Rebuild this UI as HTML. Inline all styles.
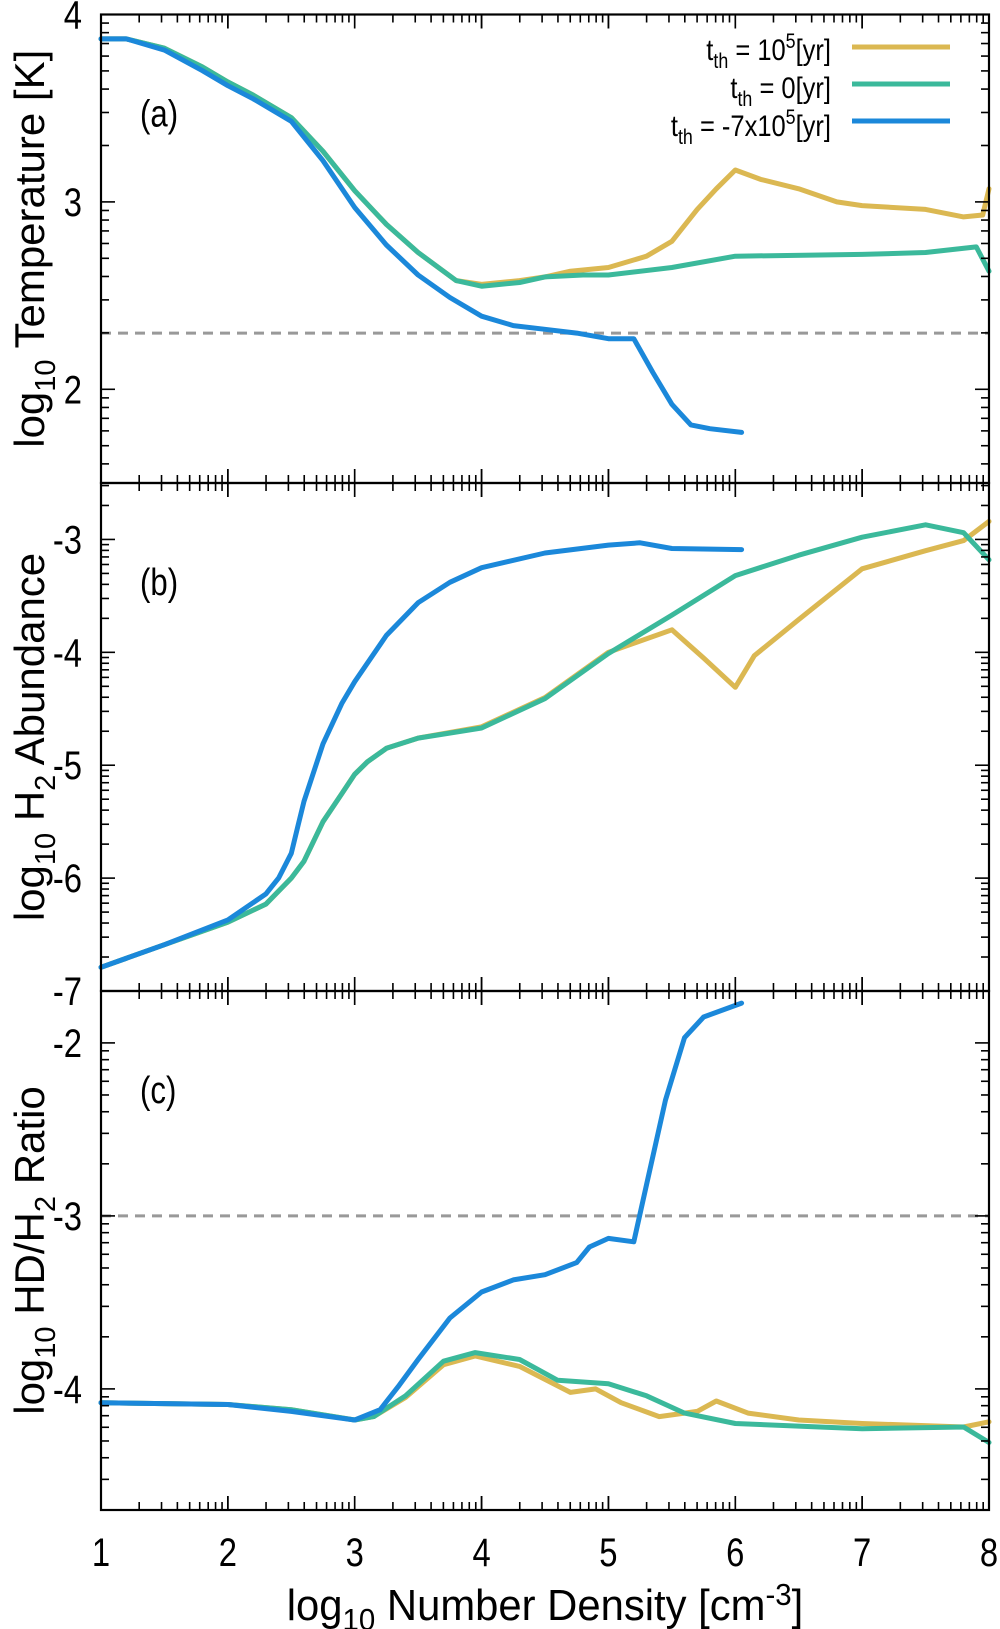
<!DOCTYPE html>
<html><head><meta charset="utf-8"><style>
html,body{margin:0;padding:0;background:#fff}
svg{display:block}
text{font-family:"Liberation Sans",sans-serif;fill:#000}
</style></head><body>
<svg id="chart" width="1000" height="1629" viewBox="0 0 1000 1629" xmlns="http://www.w3.org/2000/svg">
<g id="content"></g>
<g id="legend">
  <g>
    <text x="831" y="60" font-size="30" text-anchor="end" transform="translate(831,0) scale(0.85,1) translate(-831,0)">t<tspan font-size="21" dy="8">th</tspan><tspan dy="-8"> = 10</tspan><tspan font-size="21" dy="-12">5</tspan><tspan dy="12">[yr]</tspan></text>
    <line x1="852" y1="47" x2="950" y2="47" stroke="#dbb852" stroke-width="5"/>
  </g>
  <g>
    <text x="831" y="98" font-size="30" text-anchor="end" transform="translate(831,0) scale(0.85,1) translate(-831,0)">t<tspan font-size="21" dy="8">th</tspan><tspan dy="-8"> = 0[yr]</tspan></text>
    <line x1="852" y1="84" x2="950" y2="84" stroke="#3bb99b" stroke-width="5"/>
  </g>
  <g>
    <text x="831" y="136" font-size="30" text-anchor="end" transform="translate(831,0) scale(0.85,1) translate(-831,0)">t<tspan font-size="21" dy="8">th</tspan><tspan dy="-8"> = -7x10</tspan><tspan font-size="21" dy="-12">5</tspan><tspan dy="12">[yr]</tspan></text>
    <line x1="852" y1="121" x2="950" y2="121" stroke="#1b88da" stroke-width="5"/>
  </g>
</g>
</svg>
<script>
// ---- data ----
const xTicks = [1,2,3,4,5,6,7,8];
const colors = {gold:"#dbb852", teal:"#3bb99b", blue:"#1b88da"};

const tBlueX = [1,1.2,1.5,1.8,2,2.2,2.5,2.75,3,3.25,3.5,3.75,4,4.25,4.5,4.75,5,5.2,5.35,5.5,5.65,5.8,6.05];
const tBlueY = [3.87,3.87,3.81,3.70,3.62,3.55,3.43,3.22,2.97,2.77,2.61,2.49,2.39,2.34,2.32,2.30,2.27,2.27,2.09,1.92,1.81,1.79,1.77];
const tTealX = [1,1.2,1.5,1.8,2,2.2,2.5,2.75,3,3.25,3.5,3.8,4,4.3,4.5,4.8,5,5.5,6,7,7.5,7.9,8];
const tTealY = [3.87,3.87,3.82,3.72,3.64,3.57,3.45,3.27,3.06,2.88,2.73,2.58,2.55,2.57,2.60,2.61,2.61,2.65,2.71,2.72,2.73,2.76,2.63];
const tGoldX = [1,1.2,1.5,1.8,2,2.2,2.5,2.75,3,3.25,3.5,3.8,4,4.3,4.5,4.7,5,5.3,5.5,5.7,5.85,6,6.2,6.5,6.8,7,7.5,7.8,7.95,8];
const tGoldY = [3.87,3.87,3.82,3.72,3.64,3.57,3.45,3.27,3.06,2.88,2.73,2.58,2.56,2.58,2.60,2.63,2.65,2.71,2.79,2.96,3.07,3.17,3.12,3.07,3.00,2.98,2.96,2.92,2.93,3.07];

const hBlueX = [1,1.5,2,2.3,2.4,2.5,2.55,2.6,2.75,2.9,3,3.25,3.5,3.75,4,4.5,5,5.25,5.5,6.05];
const hBlueY = [-6.79,-6.59,-6.37,-6.14,-6.0,-5.78,-5.55,-5.32,-4.81,-4.45,-4.26,-3.85,-3.56,-3.38,-3.25,-3.12,-3.05,-3.03,-3.08,-3.09];
const hTealX = [1,1.5,2,2.3,2.5,2.6,2.75,2.9,3,3.1,3.25,3.5,4,4.5,5,5.5,6,6.5,7,7.5,7.8,8];
const hTealY = [-6.79,-6.59,-6.39,-6.23,-6.0,-5.85,-5.5,-5.25,-5.08,-4.97,-4.85,-4.76,-4.67,-4.41,-4.01,-3.67,-3.32,-3.14,-2.98,-2.87,-2.94,-3.18];
const hGoldX = [1,1.5,2,2.3,2.5,2.6,2.75,2.9,3,3.1,3.25,3.5,4,4.5,5,5.5,5.75,6,6.15,6.5,7,7.5,7.8,8];
const hGoldY = [-6.79,-6.59,-6.39,-6.23,-6.0,-5.85,-5.5,-5.25,-5.08,-4.97,-4.85,-4.76,-4.66,-4.40,-4.00,-3.80,-4.05,-4.31,-4.03,-3.71,-3.26,-3.10,-3.01,-2.84];

const rBlueX = [1,2,2.5,3,3.2,3.35,3.5,3.75,4,4.25,4.5,4.75,4.85,5,5.2,5.3,5.45,5.6,5.75,6.05];
const rBlueY = [-4.08,-4.09,-4.13,-4.18,-4.12,-3.98,-3.83,-3.59,-3.44,-3.37,-3.34,-3.27,-3.18,-3.13,-3.15,-2.82,-2.33,-1.97,-1.85,-1.77];
const rTealX = [1,2,2.5,3,3.15,3.4,3.7,3.95,4.3,4.6,5,5.3,5.6,6,7,7.8,8];
const rTealY = [-4.08,-4.09,-4.12,-4.18,-4.16,-4.04,-3.84,-3.79,-3.83,-3.95,-3.97,-4.04,-4.14,-4.20,-4.23,-4.22,-4.31];
const rGoldX = [1,2,2.5,3,3.15,3.4,3.7,3.95,4.3,4.7,4.9,5.1,5.4,5.7,5.85,6.1,6.5,7,7.8,8];
const rGoldY = [-4.08,-4.09,-4.12,-4.18,-4.16,-4.05,-3.86,-3.81,-3.87,-4.02,-4.00,-4.08,-4.16,-4.13,-4.07,-4.14,-4.18,-4.20,-4.22,-4.19];

const panels = [
  {key:"a", top:14.5, bot:483, ymin:1.5, ymax:4, ticks:[2,3,4], label:"(a)", title:["log","10"," Temperature [K]"], dash:2.3,
   series:[[tGoldX,tGoldY,"gold"],[tTealX,tTealY,"teal"],[tBlueX,tBlueY,"blue"]]},
  {key:"b", top:483, bot:991, ymin:-7, ymax:-2.5, ticks:[-6,-5,-4,-3], label:"(b)", title:["log","10"," H","2"," Abundance"], dash:null,
   series:[[hGoldX,hGoldY,"gold"],[hTealX,hTealY,"teal"],[hBlueX,hBlueY,"blue"]]},
  {key:"c", top:991, bot:1510, ymin:-4.7, ymax:-1.7, ticks:[-4,-3,-2], label:"(c)", title:["log","10"," HD/H","2"," Ratio"], dash:-3,
   series:[[rGoldX,rGoldY,"gold"],[rTealX,rTealY,"teal"],[rBlueX,rBlueY,"blue"]]}
];

const L = 101, R = 989;
const sx = v => L + (v - 1) / 7 * (R - L);
const NS = "http://www.w3.org/2000/svg";
const root = document.getElementById("content");
function mk(tag, attrs, parent){ const e=document.createElementNS(NS,tag); for(const k in attrs) e.setAttribute(k,attrs[k]); (parent||root).appendChild(e); return e; }
function narrow(x, y, s){ return "translate("+x+","+y+") scale("+(s||0.82)+",1)"; }

panels.forEach(p => {
  const sy = v => p.bot - (v - p.ymin) / (p.ymax - p.ymin) * (p.bot - p.top);
  const g = mk("g", {});
  
  
  if (p.dash !== null) {
    const d = mk("line", {x1:L, x2:R, y1:sy(p.dash), y2:sy(p.dash), stroke:"#999", "stroke-width":3, "stroke-dasharray":"10,7"}, g);
    
    
  }
  p.series.forEach(s => {
    const [xs, ys, c] = s;
    const pts = xs.map((x,i)=> sx(x).toFixed(1)+","+sy(ys[i]).toFixed(1)).join(" ");
    const pl = mk("polyline", {points:pts, fill:"none", stroke:colors[c], "stroke-width":5, "stroke-linejoin":"round", "stroke-linecap":"round"}, g);
    
    
  });
  const fr = mk("rect", {x:L, y:p.top, width:R-L, height:p.bot-p.top, fill:"none", stroke:"#000", "stroke-width":2.2}, g);
  
  
  for (let d=1; d<8; d++) {
    for (let m=1; m<=10; m++) {
      const v = d + Math.log10(m);
      if (v > 8) continue;
      const len = (m===1||m===10) ? 14 : 8;
      mk("line", {x1:sx(v), x2:sx(v), y1:p.bot, y2:p.bot-len, stroke:"#000", "stroke-width":1.6}, g);
      mk("line", {x1:sx(v), x2:sx(v), y1:p.top, y2:p.top+len, stroke:"#000", "stroke-width":1.6}, g);
    }
  }
  for (let d=Math.floor(p.ymin)-1; d<=Math.ceil(p.ymax); d++) {
    for (let m=1; m<10; m++) {
      const v = d + Math.log10(m);
      if (v < p.ymin - 1e-6 || v > p.ymax + 1e-6) continue;
      const len = m===1 ? 14 : 8;
      mk("line", {x1:L, x2:L+len, y1:sy(v), y2:sy(v), stroke:"#000", "stroke-width":1.6}, g);
      mk("line", {x1:R, x2:R-len, y1:sy(v), y2:sy(v), stroke:"#000", "stroke-width":1.6}, g);
    }
  }
  const yl = p.ticks.slice();
  if (p.key === "b") yl.push(-7);
  yl.forEach(t => {
    const yy = (t === -7) ? p.bot : sy(t);
    const tx = mk("text", {x:0, y:0, "font-size":40, "text-anchor":"end", transform:narrow(82, yy+14)}, g);
    tx.textContent = String(t);
    
    
  });
  const pl = mk("text", {x:0, y:0, "font-size":38, transform:narrow(140, p.top+112)}, g);
  pl.textContent = p.label;
  
  
  const cy = (p.top + p.bot) / 2;
  const yt = mk("text", {x:0, y:0, "font-size":42, "text-anchor":"middle", transform:"translate(44,"+cy+") rotate(-90)"}, g);
  
  
  p.title.forEach((part,i) => {
    const ts = mk("tspan", {}, yt);
    if (i % 2 === 1) { ts.setAttribute("font-size", 29); ts.setAttribute("dy", 11); }
    else if (i > 0) { ts.setAttribute("dy", -11); }
    ts.textContent = part;
  });
});
xTicks.forEach(t => {
  const tx = mk("text", {x:0, y:0, "font-size":40, "text-anchor":"middle", transform:narrow(sx(t), 1566)});
  tx.textContent = String(t);
  
  
});
const xt = mk("text", {x:0, y:0, "font-size":44, "text-anchor":"middle", transform:narrow(545, 1620, 0.95)});


xt.innerHTML = 'log<tspan font-size="31" dy="10">10</tspan><tspan dy="-10"> Number Density [cm</tspan><tspan font-size="31" dy="-15">-3</tspan><tspan dy="15">]</tspan>';
</script>
</body></html>
